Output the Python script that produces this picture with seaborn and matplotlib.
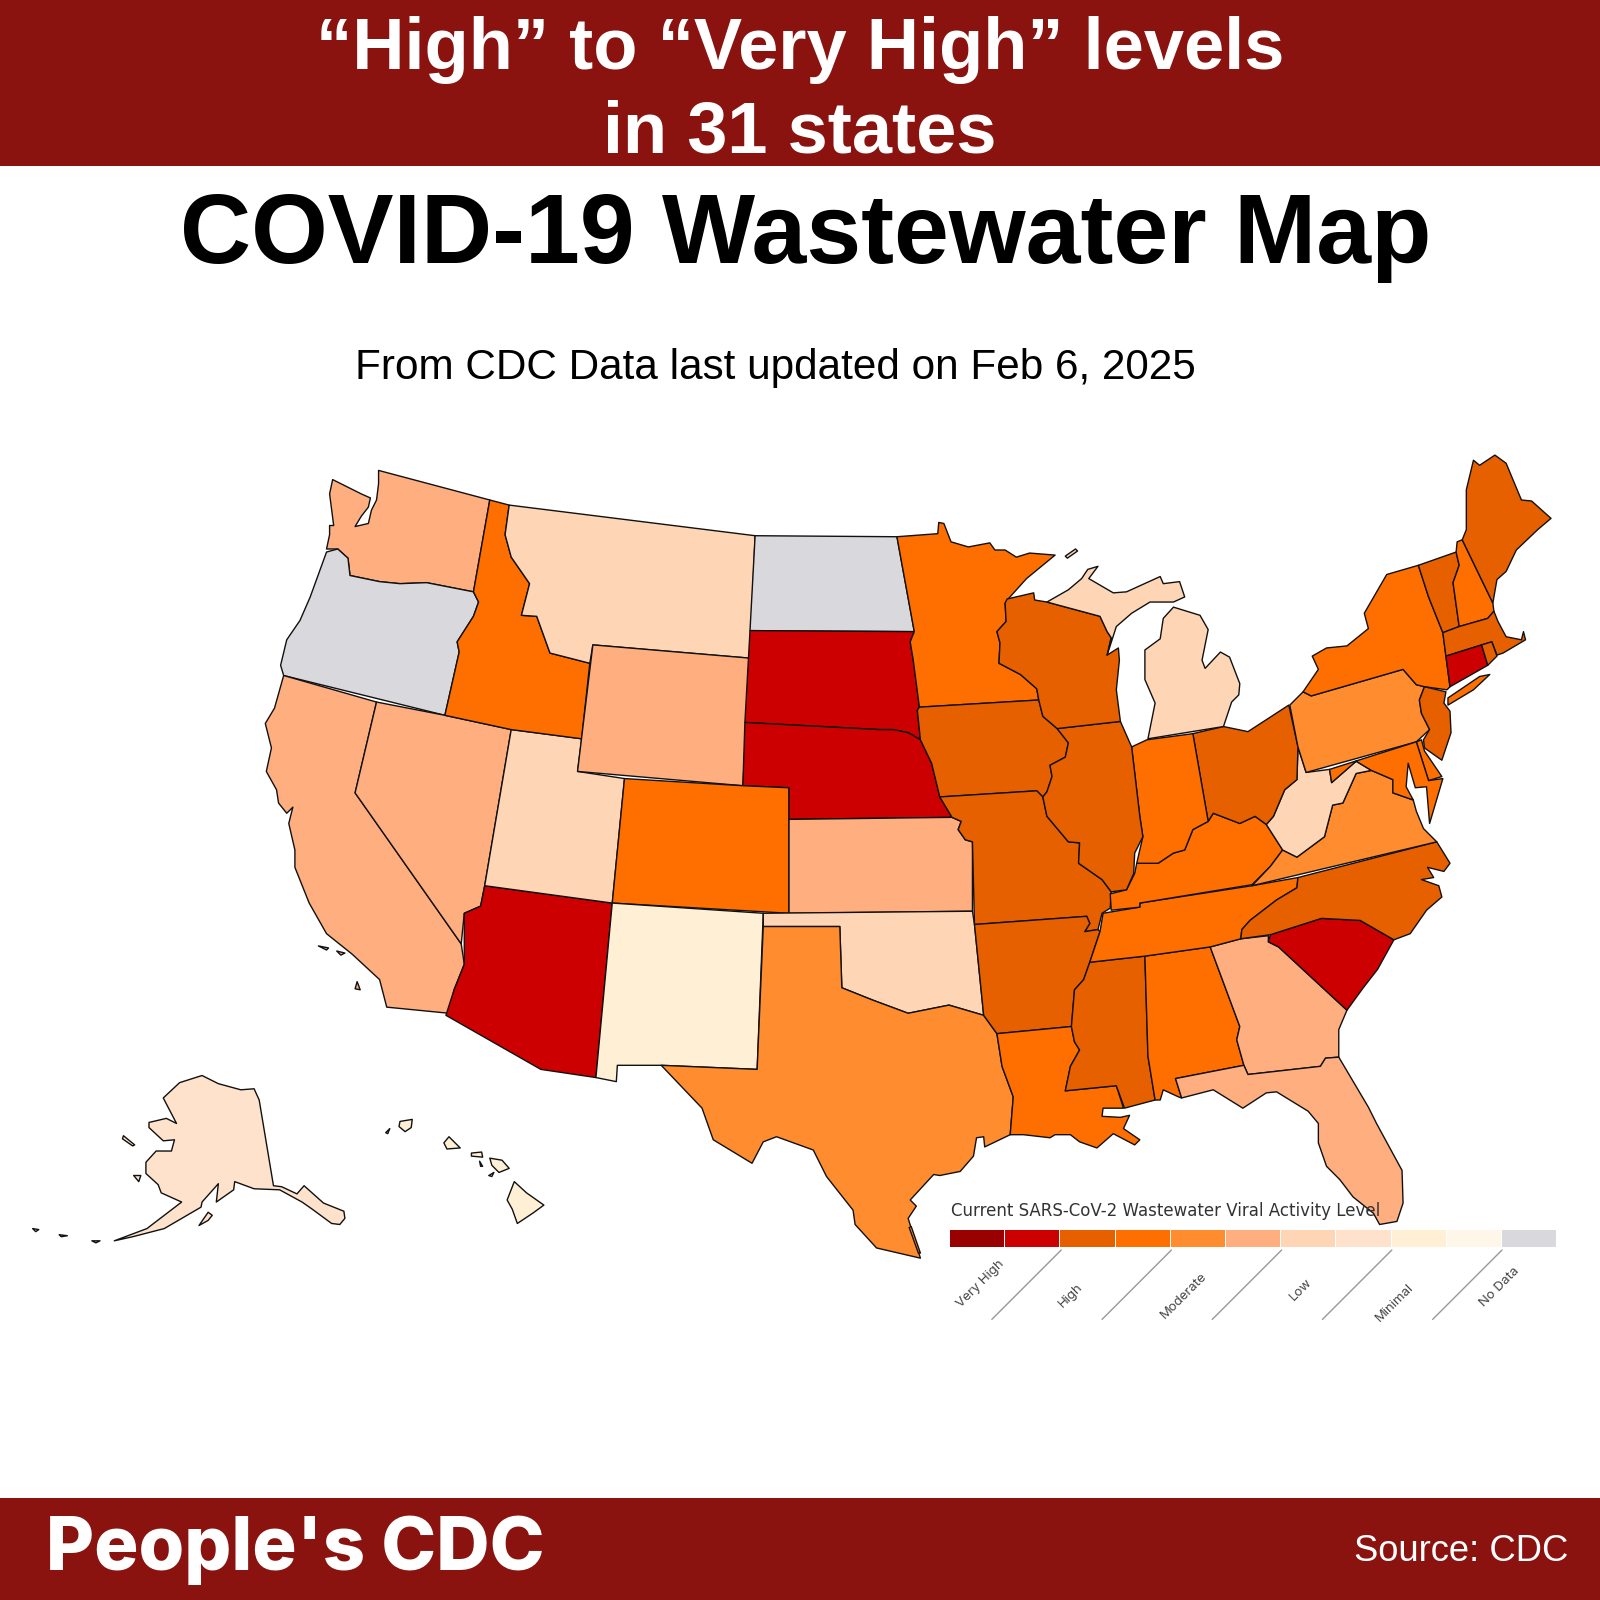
import matplotlib
matplotlib.use("Agg")
import matplotlib.pyplot as plt
from matplotlib.colors import ListedColormap
import numpy as np
import seaborn as sns

# ---------- legend data ----------
level_colors = ["#990000", "#CC0000", "#E66000", "#FF6F00", "#FF8C2E",
                "#FFAE7F", "#FFD6B5", "#FFE2CC", "#FFF0D5", "#FFF6EA", "#D9D8DD"]
level_codes = [list(range(11))]
legend_labels = ["Very High", "High", "Moderate", "Low", "Minimal", "No Data"]

# ---------- state activity level (index into level_colors) ----------
levels = {
    "AZ": 1, "SD": 1, "NE": 1, "SC": 1, "CT": 1,
    "WI": 2, "IA": 2, "MO": 2, "IL": 2, "AR": 2, "MS": 2, "OH": 2, "NC": 2,
    "ME": 2, "VT": 2, "MA": 2, "NJ": 2, "RI": 2,
    "ID": 3, "CO": 3, "MN": 3, "NY": 3, "NH": 3, "IN": 3, "KY": 3, "TN": 3,
    "AL": 3, "LA": 3, "MD": 3, "DE": 3,
    "TX": 4, "PA": 4, "VA": 4,
    "WA": 5, "CA": 5, "NV": 5, "WY": 5, "KS": 5, "GA": 5, "FL": 5,
    "MT": 6, "UT": 6, "OK": 6, "WV": 6, "MI": 6,
    "AK": 7, "NM": 8, "HI": 8, "OR": 10, "ND": 10,
}

# ---------- state outlines ----------
outlines = {
"WA": [[(371,461),(480,490),(464,580),(418,571),(392,572),(372,570),(343,564),(341,547),(331,538),(320,538),(323,524),(323,515),(327,515),(323,484),(326,470),(354,484),(363,488),(361,497),(354,506),(348,516),(361,513),(364,500),(369,490),(371,474)]],
"OR": [[(320,541),(331,538),(341,547),(343,564),(372,570),(392,572),(418,571),(464,580),(469,590),(464,604),(448,629),(450,639),(436,701),(278,662),(275,652),(281,627),(294,608),(304,585)]],
"CA": [[(278,662),(369,688),(348,777),(452,925),(455,945),(445,970),(440,993),(379,987),(372,960),(345,935),(320,915),(303,885),(289,850),(289,833),(283,807),(287,791),(281,797),(273,787),(271,774),(261,756),(266,733),(260,709),(269,694)],
       [(312,927),(322,929),(320,931)],[(350,962),(353,970),(348,969)],[(330,932),(338,934),(334,936)]],
"NV": [[(369,688),(436,701),(501,715),(475,868),(471,888),(455,895),(452,925),(348,777)]],
"AZ": [[(475,868),(600,885),(584,1056),(530,1048),(437,995),(445,970),(455,945),(455,895),(471,888)]],
"UT": [[(501,715),(570,724),(566,756),(612,763),(600,885),(475,868)]],
"ID": [[(480,490),(499,495),(495,524),(501,546),(519,572),(511,603),(526,604),(539,640),(578,650),(570,724),(501,715),(436,701),(450,639),(448,629),(464,604),(469,590),(464,580)]],
"MT": [[(499,495),(740,525),(735,645),(581,632),(578,650),(539,640),(526,604),(511,603),(519,572),(501,546),(495,524)]],
"WY": [[(581,632),(735,645),(728,770),(566,756)]],
"ND": [[(740,525),(879,526),(896,619),(735,618)]],
"SD": [[(735,618),(896,619),(892,629),(895,647),(901,693),(899,696),(902,725),(890,718),(875,715),(862,715),(730,708)]],
"NE": [[(730,708),(862,715),(875,715),(890,718),(902,725),(913,748),(921,781),(933,801),(773,803),(773,772),(728,770)]],
"KS": [[(773,803),(933,801),(942,805),(939,813),(946,823),(953,825),(953,893),(773,895)]],
"CO": [[(612,763),(728,770),(773,772),(773,895),(600,885)]],
"NM": [[(600,885),(748,895),(742,1048),(648,1044),(605,1044),(604,1060),(584,1056)]],
"OK": [[(748,895),(953,893),(955,906),(964,995),(930,985),(890,993),(855,980),(825,968),(823,908),(748,908)]],
"TX": [[(748,908),(823,908),(825,968),(855,980),(890,993),(930,985),(964,995),(977,1013),(982,1045),(993,1075),(990,1112),(965,1124),(964,1114),(957,1115),(954,1133),(941,1148),(921,1152),(915,1151),(892,1176),(898,1182),(890,1194),(902,1233),(859,1223),(838,1200),(836,1186),(810,1153),(797,1127),(761,1114),(748,1119),(737,1140),(699,1117),(688,1086),(648,1044),(742,1048)],
       [(893,1202),(902,1228),(900,1228),(891,1203)]],
"MN": [[(879,526),(919,523),(920,512),(925,513),(932,531),(949,536),(970,532),(975,539),(985,539),(996,546),(1009,542),(1034,544),(1006,567),(988,587),(985,591),(986,609),(977,619),(980,630),(979,650),(1000,661),(1016,675),(1018,686),(901,693),(895,647),(892,629),(896,619)]],
"IA": [[(901,693),(1018,686),(1022,702),(1036,714),(1047,728),(1044,742),(1029,750),(1031,761),(1026,776),(1022,781),(1016,775),(921,781),(913,748),(902,725),(899,696)]],
"MO": [[(921,781),(1016,775),(1022,781),(1026,800),(1047,825),(1058,826),(1057,846),(1080,862),(1089,874),(1088,890),(1080,895),(1076,911),(1063,913),(1068,905),(1065,898),(955,906),(953,825),(946,823),(939,813),(942,805),(933,801)]],
"AR": [[(955,906),(1065,898),(1068,905),(1063,913),(1076,911),(1078,913),(1073,928),(1068,943),(1062,960),(1053,970),(1050,1006),(977,1013),(964,995)]],
"LA": [[(977,1013),(1050,1006),(1053,1021),(1058,1029),(1049,1045),(1044,1069),(1094,1064),(1101,1086),(1081,1086),(1080,1094),(1098,1095),(1107,1093),(1101,1106),(1117,1117),(1112,1122),(1091,1111),(1075,1125),(1058,1119),(1049,1112),(1034,1112),(1029,1115),(1003,1112),(990,1112),(993,1075),(982,1045)]],
"MS": [[(1068,943),(1122,937),(1125,1035),(1132,1078),(1102,1086),(1094,1064),(1044,1069),(1049,1045),(1058,1029),(1053,1021),(1050,1006),(1053,970),(1062,960)]],
"AL": [[(1122,937),(1186,928),(1215,1006),(1212,1019),(1219,1044),(1152,1057),(1158,1076),(1155,1075),(1140,1068),(1137,1078),(1132,1078),(1125,1035)]],
"GA": [[(1186,928),(1216,920),(1243,917),(1243,923),(1253,928),(1320,990),(1312,1009),(1312,1036),(1299,1037),(1294,1045),(1223,1053),(1219,1044),(1212,1019),(1215,1006)]],
"SC": [[(1245,916),(1295,900),(1333,902),(1366,921),(1350,950),(1336,968),(1320,990),(1253,928),(1243,923)]],
"FL": [[(1152,1057),(1219,1044),(1223,1053),(1294,1045),(1299,1037),(1312,1036),(1341,1085),(1349,1101),(1374,1147),(1375,1179),(1369,1197),(1352,1200),(1346,1189),(1326,1173),(1313,1156),(1300,1143),(1292,1120),(1292,1101),(1282,1089),(1251,1070),(1241,1071),(1218,1086),(1189,1068),(1158,1076)]],
"TN": [[(1081,895),(1117,889),(1117,885),(1227,868),(1272,860),(1271,870),(1251,882),(1225,902),(1217,911),(1216,920),(1186,928),(1122,937),(1068,943),(1073,928),(1078,913)]],
"NC": [[(1272,860),(1408,825),(1413,833),(1421,846),(1415,854),(1399,850),(1405,860),(1393,862),(1410,868),(1413,879),(1398,892),(1382,915),(1366,921),(1333,902),(1295,900),(1245,916),(1216,920),(1217,911),(1225,902),(1251,882),(1271,870)]],
"KY": [[(1089,892),(1088,876),(1104,872),(1112,856),(1114,846),(1135,846),(1150,836),(1161,833),(1169,813),(1184,805),(1189,797),(1215,807),(1230,800),(1241,808),(1257,833),(1245,849),(1227,867),(1117,885),(1117,889)]],
"VA": [[(1227,868),(1245,849),(1257,833),(1271,840),(1298,820),(1306,789),(1316,787),(1329,758),(1344,755),(1365,764),(1365,777),(1385,784),(1388,795),(1395,812),(1408,825)]],
"WV": [[(1272,732),(1280,757),(1303,754),(1305,767),(1329,746),(1344,755),(1329,758),(1316,787),(1306,789),(1298,820),(1271,840),(1257,833),(1241,808),(1248,800),(1259,774),(1271,764)]],
"OH": [[(1169,719),(1199,712),(1223,717),(1263,691),(1272,732),(1271,764),(1259,774),(1248,800),(1241,808),(1230,800),(1215,807),(1189,797),(1184,805)]],
"IN": [[(1109,732),(1124,725),(1169,719),(1184,805),(1169,813),(1161,833),(1150,836),(1135,846),(1114,846),(1120,820),(1117,800)]],
"IL": [[(1036,714),(1098,707),(1109,732),(1117,800),(1120,820),(1112,836),(1111,856),(1104,872),(1089,874),(1080,862),(1057,846),(1058,826),(1047,825),(1026,800),(1022,781),(1026,776),(1031,761),(1029,750),(1044,742),(1047,728)]],
"WI": [[(987,587),(1013,581),(1014,588),(1026,590),(1078,604),(1085,619),(1089,625),(1085,642),(1096,635),(1097,647),(1094,676),(1098,707),(1036,714),(1022,702),(1018,686),(1016,675),(1000,661),(979,650),(980,630),(977,619),(986,609),(985,591)]],
"MI": [[(1026,590),(1047,578),(1060,567),(1066,558),(1076,555),(1067,567),(1091,581),(1104,580),(1137,565),(1140,572),(1156,570),(1161,585),(1150,590),(1127,590),(1109,601),(1094,614),(1085,642),(1089,625),(1085,619),(1078,604)],
       [(1150,595),(1176,603),(1184,617),(1178,647),(1181,655),(1196,639),(1205,644),(1215,670),(1214,681),(1207,688),(1199,712),(1125,724),(1132,689),(1122,666),(1122,637),(1137,626),(1140,606)],
       [(1044,545),(1054,538),(1056,540),(1046,547)]],
"PA": [[(1264,691),(1277,678),(1285,682),(1375,656),(1388,671),(1396,673),(1391,686),(1393,699),(1401,715),(1388,727),(1280,757),(1272,732)]],
"NY": [[(1285,682),(1277,678),(1292,656),(1286,643),(1300,635),(1320,633),(1341,616),(1337,601),(1359,563),(1390,554),(1400,585),(1414,620),(1417,643),(1421,673),(1418,676),(1396,673),(1388,671),(1375,656)],
       [(1419,684),(1450,663),(1460,661),(1444,676),(1419,691)]],
"VT": [[(1390,554),(1427,541),(1430,554),(1424,571),(1430,614),(1414,620),(1400,585)]],
"NH": [[(1427,541),(1428,531),(1433,529),(1463,591),(1464,599),(1458,606),(1430,614),(1424,571),(1430,554)]],
"ME": [[(1433,529),(1437,519),(1437,480),(1444,451),(1450,456),(1465,446),(1476,454),(1491,490),(1501,491),(1520,508),(1507,519),(1486,539),(1476,560),(1467,568),(1463,591)]],
"MA": [[(1414,620),(1430,614),(1458,606),(1464,599),(1468,609),(1476,624),(1491,627),(1493,619),(1495,627),(1473,640),(1467,642),(1462,629),(1452,632),(1417,643)]],
"CT": [[(1417,643),(1452,632),(1458,652),(1421,673)]],
"RI": [[(1452,632),(1462,629),(1467,643),(1458,652)]],
"NJ": [[(1396,673),(1417,678),(1415,689),(1421,697),(1422,718),(1413,745),(1396,733),(1395,725),(1401,715),(1393,699),(1391,686)]],
"DE": [[(1388,727),(1393,725),(1396,736),(1413,761),(1400,765)]],
"MD": [[(1303,754),(1388,727),(1400,765),(1414,763),(1401,807),(1398,771),(1387,772),(1380,748),(1378,771),(1385,784),(1365,777),(1365,764),(1344,755),(1329,746),(1305,767)]],
"AK": [[(198,1054),(214,1062),(236,1068),(249,1067),(254,1078),(268,1162),(276,1163),(291,1170),(298,1162),(317,1179),(337,1187),(338,1194),(333,1200),(325,1199),(306,1185),(296,1178),(274,1166),(249,1165),(230,1158),(229,1166),(212,1178),(214,1160),(198,1178),(197,1183),(161,1204),(130,1212),(112,1216),(144,1204),(178,1178),(158,1169),(155,1161),(143,1150),(143,1139),(153,1128),(168,1128),(171,1117),(160,1118),(146,1105),(146,1100),(163,1096),(173,1101),(160,1076),(176,1061)],
       [(121,1113),(132,1122),(130,1123),(120,1116)],[(131,1152),(138,1152),(136,1158)],[(195,1201),(204,1188),(208,1191),(204,1196)],
       [(32,1204),(38,1205),(35,1207)],[(58,1210),(66,1211),(60,1212)],[(90,1216),(98,1216),(94,1218)]],
"HI": [[(504,1158),(516,1169),(533,1181),(522,1189),(507,1199),(502,1185),(497,1176)],
       [(480,1135),(492,1137),(499,1145),(489,1149),(482,1142)],[(462,1130),(472,1129),(473,1134),(462,1133)],
       [(440,1114),(451,1125),(438,1126),(435,1120)],[(392,1099),(404,1097),(403,1105),(397,1109),(391,1104)],
       [(378,1110),(382,1106),(380,1111)],[(470,1138),(473,1143),(471,1143)],[(479,1152),(484,1149),(482,1153)]],
}

# ---------- figure ----------
sns.set_theme(style="white")
plt.rcParams["font.family"] = ["Liberation Sans", "DejaVu Sans"]
palette = sns.color_palette(level_colors)
banner = "#8A130F"

fig = plt.figure(figsize=(16, 16), dpi=100, facecolor="white")
ax = fig.add_axes([0, 0, 1, 1])
ax.set_xlim(0, 1568)
ax.set_ylim(1568, 0)
ax.axis("off")

ax.axhspan(0, 163, color=banner, lw=0, zorder=0)
ax.axhspan(1468, 1568, color=banner, lw=0, zorder=0)

for code, polys in outlines.items():
    for poly in polys:
        xs, ys = zip(*poly)
        ax.fill(xs, ys, facecolor=palette[levels[code]], edgecolor="#111111",
                linewidth=1.0, joinstyle="round", zorder=2)

ax.text(784, 49, "“High” to “Very High” levels", color="white", fontsize=52,
        fontweight="bold", ha="center", va="center")
ax.text(784, 131, "in 31 states", color="white", fontsize=52,
        fontweight="bold", ha="center", va="center")
ax.text(790, 233, "COVID-19 Wastewater Map", color="black", fontsize=71,
        fontweight="bold", ha="center", va="center")
ax.text(760, 361, "From CDC Data last updated on Feb 6, 2025", color="black",
        fontsize=30.4, ha="center", va="center")
ax.text(45, 1519, "People's CDC", color="white", fontsize=53.2, fontweight=800,
        family=["Inter", "DejaVu Sans"], ha="left", va="center")
ax.text(1537, 1520, "Source: CDC", color="white", fontsize=26.2, ha="right", va="center")

# ---------- legend ----------
ax.text(932, 1187, "Current SARS-CoV-2 Wastewater Viral Activity Level", color="#333333",
        fontsize=12, family=["DejaVu Sans"], ha="left", va="center", zorder=3)
lax = fig.add_axes([930 / 1568, 1 - 1222 / 1568, 595 / 1568, 18 / 1568])
sns.heatmap(np.array(level_codes), ax=lax, cmap=ListedColormap(level_colors), vmin=-0.5, vmax=10.5,
            cbar=False, linewidths=0.7, linecolor="white", xticklabels=False, yticklabels=False)
lax.set_xlabel("")
lax.set_ylabel("")
lax.patch.set_alpha(0)

for x in [1040, 1148, 1256, 1364, 1472]:
    ax.plot([x, x - 68], [1225, 1293], color="#999999", lw=1.0, zorder=1)
label_x = [961, 1049, 1160, 1275, 1367, 1470]
label_y = [1258, 1270, 1270, 1264, 1277, 1261]
for lab, x, y in zip(legend_labels, label_x, label_y):
    ax.text(x, y, lab, rotation=45, color="#444444", fontsize=9.5,
            family=["Inter", "DejaVu Sans"], ha="center", va="center")

fig.savefig("out.png", dpi=100, facecolor="white")
